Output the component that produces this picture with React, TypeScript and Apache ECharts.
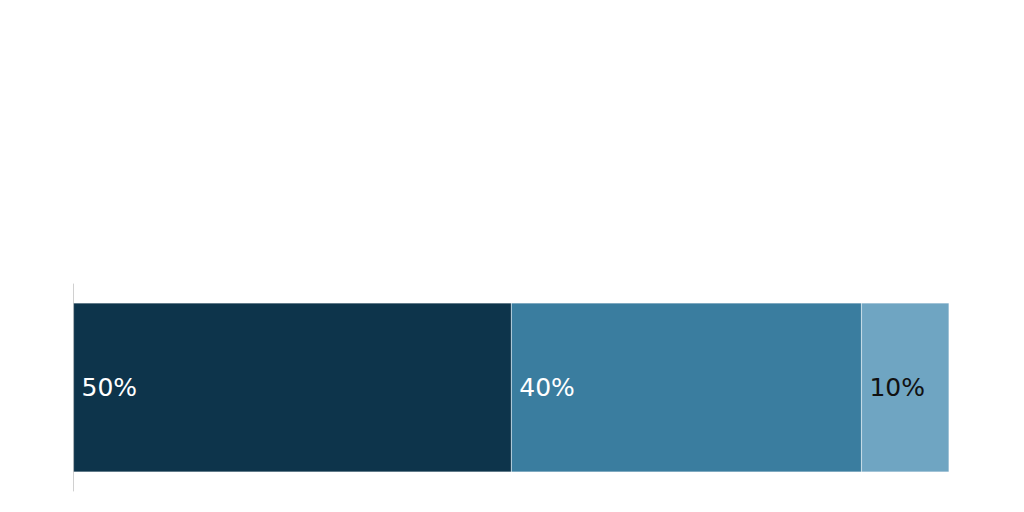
import React, { useEffect, useRef } from "react";
import * as echarts from "echarts";

const categories = ["Share"];
const seriesNames = ["A", "B", "C"];
const values = [50, 40, 10];
const colors = ["#0d344b", "#3a7d9f", "#6fa5c2"];
const labelColors = ["#ffffff", "#ffffff", "#111111"];

export default function App() {
  const ref = useRef<HTMLDivElement>(null);
  useEffect(() => {
    if (!ref.current) return;
    const chart = echarts.init(ref.current, undefined, { renderer: "svg" });
    chart.setOption({
      animation: false,
      grid: { left: 73.5, right: 75, top: 284, bottom: 21, containLabel: false },
      xAxis: {
        type: "value",
        min: 0,
        max: 100,
        show: false,
      },
      yAxis: {
        type: "category",
        data: categories,
        axisLine: { show: true, lineStyle: { color: "#d0d0d0", width: 1 } },
        axisTick: { show: false },
        axisLabel: { show: false },
        splitLine: { show: false },
      },
      series: seriesNames.map((n, i) => ({
        name: n,
        type: "bar",
        stack: "total",
        barWidth: 169,
        data: [values[i]],
        itemStyle: { color: colors[i], borderColor: "rgba(255,255,255,0.35)", borderWidth: 0.5 },
        label: {
          show: true,
          position: "insideLeft",
          offset: [3, 0],
          formatter: "{c}%",
          color: labelColors[i],
          fontSize: 25,
          fontFamily: "DejaVu Sans",
          fontWeight: "normal",
        },
      })),
    });
    return () => chart.dispose();
  }, []);
  return <div ref={ref} style={{ position: "absolute", left: 0, top: 0, width: 1024, height: 512 }} />;
}
